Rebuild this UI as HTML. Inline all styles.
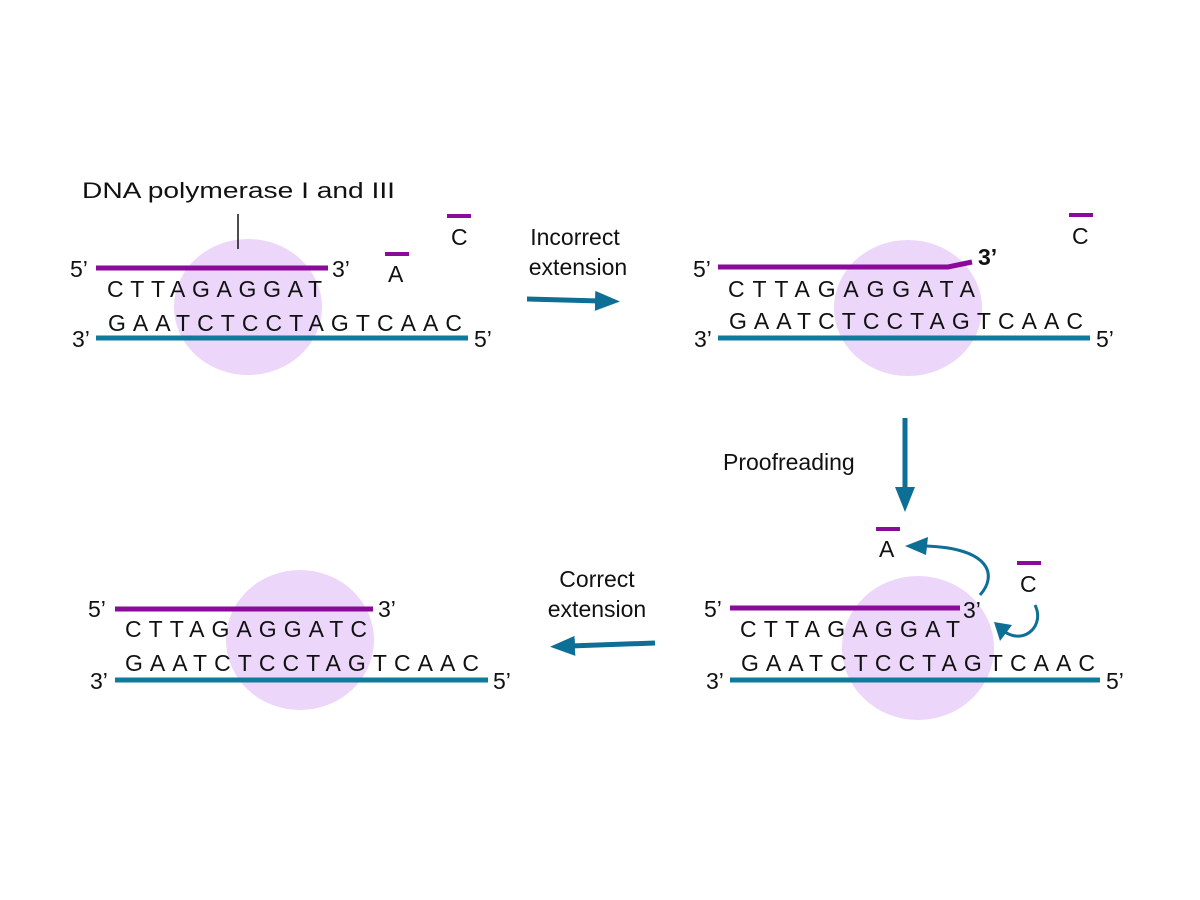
<!DOCTYPE html>
<html><head><meta charset="utf-8"><style>body{margin:0;background:#fff}svg{display:block}text{font-family:"Liberation Sans",sans-serif;fill:#111}</style></head><body>
<svg width="1200" height="900" viewBox="0 0 1200 900">
<defs>
<marker id="ah" markerWidth="5" markerHeight="4" refX="1" refY="2" orient="auto" markerUnits="strokeWidth"><path d="M0,0 L5,2 L0,4 z" fill="#0d6f95"/></marker>
</defs>
<g fill="#ecd6fa">
<ellipse cx="248" cy="307" rx="74" ry="68"/>
<ellipse cx="908" cy="308" rx="74" ry="68"/>
<ellipse cx="918" cy="648" rx="76" ry="72"/>
<ellipse cx="300" cy="640" rx="74" ry="70"/>
</g>
<g font-size="23">
<!-- Panel 1 -->
<text x="82" y="198" font-size="22" textLength="313" lengthAdjust="spacingAndGlyphs">DNA  polymerase I and III</text>
<line x1="238" y1="214" x2="238" y2="249" stroke="#111" stroke-width="1.5"/>
<line x1="96" y1="268" x2="328" y2="268" stroke="#8a0a9a" stroke-width="5"/>
<text x="70" y="277">5’</text><text x="332" y="277">3’</text>
<text x="107" y="297" textLength="215" lengthAdjust="spacing">CTTAGAGGAT</text>
<text x="108" y="331" textLength="354" lengthAdjust="spacing">GAATCTCCTAGTCAAC</text>
<line x1="96" y1="338" x2="468" y2="338" stroke="#0f7a9c" stroke-width="5"/>
<text x="72" y="347">3’</text><text x="474" y="347">5’</text>
<line x1="385" y1="254" x2="409" y2="254" stroke="#8a0a9a" stroke-width="4"/>
<text x="388" y="282">A</text>
<line x1="447" y1="216" x2="471" y2="216" stroke="#8a0a9a" stroke-width="4"/>
<text x="451" y="245">C</text>
<!-- arrow 1 -->
<text x="575" y="245" text-anchor="middle">Incorrect</text>
<text x="578" y="275" text-anchor="middle">extension</text>
<line x1="527" y1="299" x2="600" y2="301" stroke="#0d6f95" stroke-width="5" marker-end="url(#ah)"/>
<!-- Panel 2 -->
<polyline points="718,267 948,267 972,262" fill="none" stroke="#8a0a9a" stroke-width="5"/>
<text x="693" y="277">5’</text><text x="978" y="265" font-weight="bold">3’</text>
<text x="728" y="297" textLength="247" lengthAdjust="spacing">CTTAGAGGATA</text>
<text x="729" y="329" textLength="354" lengthAdjust="spacing">GAATCTCCTAGTCAAC</text>
<line x1="718" y1="338" x2="1090" y2="338" stroke="#0f7a9c" stroke-width="5"/>
<text x="694" y="347">3’</text><text x="1096" y="347">5’</text>
<line x1="1069" y1="215" x2="1093" y2="215" stroke="#8a0a9a" stroke-width="4"/>
<text x="1072" y="244">C</text>
<!-- Proofreading -->
<text x="723" y="470">Proofreading</text>
<line x1="905" y1="418" x2="905" y2="492" stroke="#0d6f95" stroke-width="5" marker-end="url(#ah)"/>
<!-- Panel 3 -->
<line x1="876" y1="529" x2="900" y2="529" stroke="#8a0a9a" stroke-width="4"/>
<text x="879" y="557">A</text>
<line x1="1017" y1="563" x2="1041" y2="563" stroke="#8a0a9a" stroke-width="4"/>
<text x="1020" y="592">C</text>
<path d="M980,595 C998,575 990,548 925,546" fill="none" stroke="#0d6f95" stroke-width="3"/>
<path d="M905,546 L928,537 L926,555 z" fill="#0d6f95"/>
<path d="M1035,605 C1045,625 1025,645 1005,632" fill="none" stroke="#0d6f95" stroke-width="3"/>
<path d="M994,622 L1012,625 L1000,641 z" fill="#0d6f95"/>
<line x1="730" y1="608" x2="960" y2="608" stroke="#8a0a9a" stroke-width="5"/>
<text x="704" y="617">5’</text><text x="963" y="618">3’</text>
<text x="740" y="637" textLength="220" lengthAdjust="spacing">CTTAGAGGAT</text>
<text x="741" y="671" textLength="354" lengthAdjust="spacing">GAATCTCCTAGTCAAC</text>
<line x1="730" y1="680" x2="1100" y2="680" stroke="#0f7a9c" stroke-width="5"/>
<text x="706" y="689">3’</text><text x="1106" y="689">5’</text>
<!-- Correct extension -->
<text x="597" y="587" text-anchor="middle">Correct</text>
<text x="597" y="617" text-anchor="middle">extension</text>
<line x1="655" y1="643" x2="570" y2="646" stroke="#0d6f95" stroke-width="5" marker-end="url(#ah)"/>
<!-- Panel 4 -->
<line x1="115" y1="609" x2="373" y2="609" stroke="#8a0a9a" stroke-width="5"/>
<text x="88" y="617">5’</text><text x="378" y="617">3’</text>
<text x="125" y="637" textLength="242" lengthAdjust="spacing">CTTAGAGGATC</text>
<text x="125" y="671" textLength="354" lengthAdjust="spacing">GAATCTCCTAGTCAAC</text>
<line x1="115" y1="680" x2="488" y2="680" stroke="#0f7a9c" stroke-width="5"/>
<text x="90" y="689">3’</text><text x="493" y="689">5’</text>
</g>
</svg>
</body></html>
